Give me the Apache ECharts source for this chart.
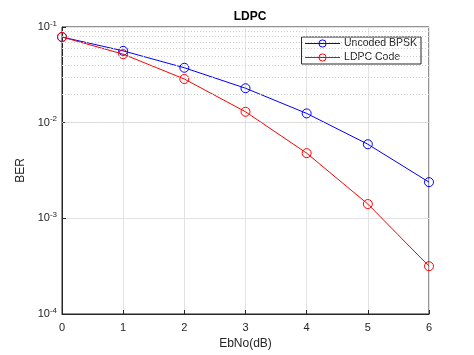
<!DOCTYPE html>
<html>
<head>
<meta charset="utf-8">
<script src="https://cdn.jsdelivr.net/npm/echarts@6/dist/echarts.min.js"></script>
<style>
html, body { margin: 0; padding: 0; background: #fff; }
#chart { width: 474px; height: 355px; }
</style>
</head>
<body>
<div id="chart"></div>
<script>
var ebno = [0, 1, 2, 3, 4, 5, 6];
var uncodedBer = [0.0786, 0.0563, 0.0375, 0.0229, 0.0125, 0.00595, 0.00239];
var ldpcBer = [0.0786, 0.052, 0.0286, 0.0130, 0.0048, 0.00141, 0.000316];
var names = ['Uncoded BPSK', 'LDPC Code'];
var colors = ['#0000ff', '#ff0000'];

// minor grid at 2..9 of each decade, like matlab
var minorGrid = [];
[1e-4, 1e-3, 1e-2].forEach(function (d) {
    for (var k = 2; k <= 9; k++) {
        minorGrid.push({yAxis: +(d * k).toPrecision(3)});
    }
});

var font = 'Liberation Sans, Arial, sans-serif';

function pairs(xs, ys) {
    return xs.map(function (x, i) { return [x, ys[i]]; });
}

function curve(name, ys, color, z) {
    return {
        name: name,
        type: 'line',
        data: pairs(ebno, ys),
        symbol: 'circle',
        symbolSize: 9,
        color: color,
        lineStyle: {width: 1, color: color},
        itemStyle: {color: 'rgba(255,255,255,0)', borderColor: color, borderWidth: 1},
        z: z
    };
}

var uncoded = curve(names[0], uncodedBer, colors[0], 3);
uncoded.markLine = {
    silent: true,
    symbol: 'none',
    label: {show: false},
    lineStyle: {color: '#cfcfcf', type: [1, 2], width: 1},
    data: minorGrid
};

var legendData = names.map(function (n, i) {
    return {
        name: n,
        lineStyle: {width: 1, color: colors[i]},
        itemStyle: {color: 'rgba(255,255,255,0)', borderColor: colors[i], borderWidth: 1}
    };
});

var chart = echarts.init(document.getElementById('chart'));
chart.setOption({
    animation: false,
    title: {
        text: 'LDPC',
        left: 245,
        textAlign: 'center',
        top: 6,
        textStyle: {fontFamily: font, fontSize: 12, fontWeight: 'bold', color: '#000'}
    },
    grid: {
        left: 62, right: 45, top: 27, bottom: 39,
        show: true, borderColor: '#262626', borderWidth: 1, backgroundColor: '#fff'
    },
    legend: {
        right: 53, top: 37,
        orient: 'vertical',
        backgroundColor: '#fff',
        borderColor: '#262626',
        borderWidth: 1,
        borderRadius: 0,
        padding: [1, 4, 1, 3],
        itemGap: 3,
        itemWidth: 35,
        itemHeight: 9,
        textStyle: {fontFamily: font, fontSize: 10.5, color: '#262626', padding: [0, 0, 0, -1]},
        data: legendData
    },
    xAxis: {
        type: 'value',
        min: 0, max: 6, interval: 1,
        name: 'EbNo(dB)',
        nameLocation: 'middle',
        nameGap: 24,
        nameTextStyle: {fontFamily: font, fontSize: 12, color: '#262626'},
        axisLine: {lineStyle: {color: '#262626'}},
        axisTick: {inside: true, length: 4, lineStyle: {color: '#262626'}},
        axisLabel: {fontFamily: font, fontSize: 11, color: '#262626', margin: 8},
        splitLine: {show: true, lineStyle: {color: '#e3e3e3', width: 1}}
    },
    yAxis: {
        type: 'log',
        logBase: 10,
        min: 1e-4, max: 1e-1,
        name: 'BER',
        nameLocation: 'middle',
        nameGap: 31,
        nameTextStyle: {fontFamily: font, fontSize: 12, color: '#262626'},
        axisLine: {lineStyle: {color: '#262626'}},
        axisTick: {inside: true, length: 4, lineStyle: {color: '#262626'}},
        axisLabel: {
            fontFamily: font, fontSize: 11, color: '#262626', margin: 5,
            formatter: function (v) {
                var e = Math.round(Math.log10(v));
                return '{b|10}{s|' + e + '}';
            },
            rich: {
                b: {fontFamily: font, fontSize: 11, color: '#262626'},
                s: {fontFamily: font, fontSize: 8, color: '#262626', verticalAlign: 'bottom', padding: [0, 0, 7, 0]}
            }
        },
        splitLine: {show: true, lineStyle: {color: '#e3e3e3', width: 1}}
    },
    series: [uncoded, curve(names[1], ldpcBer, colors[1], 4)]
});
</script>
</body>
</html>
